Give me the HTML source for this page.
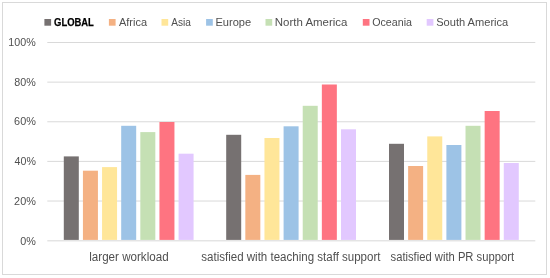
<!DOCTYPE html>
<html lang="en">
<head>
<meta charset="utf-8">
<title>Survey results by region</title>
<style>
html,body{margin:0;padding:0;background:#fff;}
body{width:550px;height:278px;overflow:hidden;}
svg{display:block;}
text{font-family:"Liberation Sans",sans-serif;font-size:11px;fill:#4f4f4f;}
.c{font-size:12px;}
.b{font-weight:bold;fill:#000;stroke:#000;stroke-width:0.25px;}
</style>
</head>
<body>
<svg width="550" height="278" viewBox="0 0 550 278">
<rect x="0" y="0" width="550" height="278" fill="#fff"/>
<rect x="2.5" y="2.5" width="544" height="272" fill="#fff" stroke="#D9D9D9" stroke-width="1"/>
<rect x="47.3" y="42.00" width="488" height="1" fill="#D9D9D9"/>
<rect x="47.3" y="81.63" width="488" height="1" fill="#D9D9D9"/>
<rect x="47.3" y="121.26" width="488" height="1" fill="#D9D9D9"/>
<rect x="47.3" y="160.89" width="488" height="1" fill="#D9D9D9"/>
<rect x="47.3" y="200.52" width="488" height="1" fill="#D9D9D9"/>
<rect x="63.80" y="156.40" width="15.0" height="83.50" fill="#767171"/>
<rect x="82.93" y="170.70" width="15.0" height="69.20" fill="#F4B183"/>
<rect x="102.06" y="167.10" width="15.0" height="72.80" fill="#FFE699"/>
<rect x="121.19" y="125.80" width="15.0" height="114.10" fill="#9DC3E6"/>
<rect x="140.32" y="132.10" width="15.0" height="107.80" fill="#C5E0B4"/>
<rect x="159.45" y="122.00" width="15.0" height="117.90" fill="#FE7481"/>
<rect x="178.58" y="153.70" width="15.0" height="86.20" fill="#E2C8FF"/>
<rect x="226.20" y="134.80" width="15.0" height="105.10" fill="#767171"/>
<rect x="245.33" y="174.90" width="15.0" height="65.00" fill="#F4B183"/>
<rect x="264.46" y="138.00" width="15.0" height="101.90" fill="#FFE699"/>
<rect x="283.59" y="126.30" width="15.0" height="113.60" fill="#9DC3E6"/>
<rect x="302.72" y="105.80" width="15.0" height="134.10" fill="#C5E0B4"/>
<rect x="321.85" y="84.50" width="15.0" height="155.40" fill="#FE7481"/>
<rect x="340.98" y="129.30" width="15.0" height="110.60" fill="#E2C8FF"/>
<rect x="389.00" y="143.80" width="15.0" height="96.10" fill="#767171"/>
<rect x="408.13" y="166.00" width="15.0" height="73.90" fill="#F4B183"/>
<rect x="427.26" y="136.40" width="15.0" height="103.50" fill="#FFE699"/>
<rect x="446.39" y="145.00" width="15.0" height="94.90" fill="#9DC3E6"/>
<rect x="465.52" y="125.80" width="15.0" height="114.10" fill="#C5E0B4"/>
<rect x="484.65" y="111.00" width="15.0" height="128.90" fill="#FE7481"/>
<rect x="503.78" y="163.00" width="15.0" height="76.90" fill="#E2C8FF"/>
<rect x="47.3" y="240.3" width="488" height="1.05" fill="#D9D9D9"/>
<text x="8.30" y="46" textLength="27.40" lengthAdjust="spacingAndGlyphs">100%</text>
<text x="14.25" y="86" textLength="21.50" lengthAdjust="spacingAndGlyphs">80%</text>
<text x="14.10" y="125" textLength="21.75" lengthAdjust="spacingAndGlyphs">60%</text>
<text x="14.60" y="165" textLength="21.25" lengthAdjust="spacingAndGlyphs">40%</text>
<text x="14.10" y="205" textLength="21.75" lengthAdjust="spacingAndGlyphs">20%</text>
<text x="20.35" y="245" textLength="15.60" lengthAdjust="spacingAndGlyphs">0%</text>
<rect x="44.4" y="19" width="6.7" height="6.7" fill="#767171"/>
<text class="b" x="54.05" y="26" textLength="39.85" lengthAdjust="spacingAndGlyphs">GLOBAL</text>
<rect x="108.9" y="19" width="6.7" height="6.7" fill="#F4B183"/>
<text x="118.95" y="26" textLength="28.05" lengthAdjust="spacingAndGlyphs">Africa</text>
<rect x="161.5" y="19" width="6.7" height="6.7" fill="#FFE699"/>
<text x="171.30" y="26" textLength="19.70" lengthAdjust="spacingAndGlyphs">Asia</text>
<rect x="206.1" y="19" width="6.7" height="6.7" fill="#9DC3E6"/>
<text x="215.40" y="26" textLength="35.75" lengthAdjust="spacingAndGlyphs">Europe</text>
<rect x="265.5" y="19" width="6.7" height="6.7" fill="#C5E0B4"/>
<text x="274.85" y="26" textLength="72.60" lengthAdjust="spacingAndGlyphs">North America</text>
<rect x="362.8" y="19" width="6.7" height="6.7" fill="#FE7481"/>
<text x="372.15" y="26" textLength="39.85" lengthAdjust="spacingAndGlyphs">Oceania</text>
<rect x="426.7" y="19" width="6.7" height="6.7" fill="#E2C8FF"/>
<text x="436.15" y="26" textLength="72.15" lengthAdjust="spacingAndGlyphs">South America</text>
<text class="c" x="89.25" y="261" textLength="79.35" lengthAdjust="spacingAndGlyphs">larger workload</text>
<text class="c" x="201.25" y="261" textLength="179.25" lengthAdjust="spacingAndGlyphs">satisfied with teaching staff support</text>
<text class="c" x="390.55" y="261" textLength="123.45" lengthAdjust="spacingAndGlyphs">satisfied with PR support</text>
</svg>
</body>
</html>
